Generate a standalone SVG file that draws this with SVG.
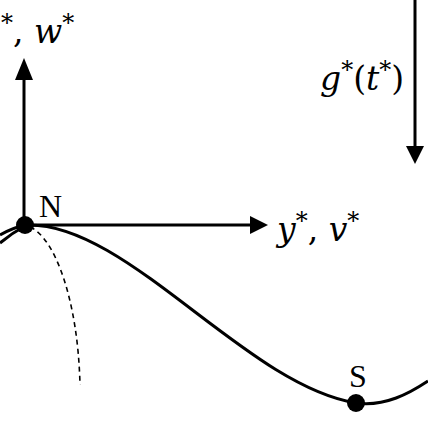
<svg xmlns="http://www.w3.org/2000/svg" width="428" height="428" viewBox="0 0 428 428">
<style>
.ax{stroke:#000;stroke-width:3;fill:none}
.cv{stroke:#000;stroke-width:3;fill:none}
.ds{stroke:#000;stroke-width:1.6;fill:none;stroke-dasharray:5 4}
.m{font-family:"DejaVu Serif",serif;font-style:italic;font-size:33px;fill:#000}
.up{font-style:normal}
.sup{font-size:24px;font-style:normal}
.lb{font-family:"Liberation Serif",serif;font-size:32px;fill:#000}
.ah{fill:#000}
</style>
<rect width="428" height="428" fill="#fff"/>
<g id="connectors">
<line class="ax" x1="24" y1="225" x2="24" y2="76"/>
<polygon class="ah" points="24,58 15,80 33,80"/>
<line class="ax" x1="24" y1="225" x2="252" y2="225"/>
<polygon class="ah" points="268,225 250,216 250,234"/>
<line class="ax" x1="415" y1="0" x2="415" y2="148"/>
<polygon class="ah" points="415,164 406,146 424,146"/>
<path class="cv" d="M25,225 C125,220 245,385 356,403 C385,407 410,393 428,381"/>
<path class="cv" d="M25,225 Q12,228 0,235"/>
<path class="cv" d="M25,226 Q12,233 0,243"/>
<path class="ds" d="M30,227 C55,238 78,300 80,385"/>
</g>
<g id="node-N">
<circle cx="25" cy="225" r="9" fill="#000"/>
<text class="lb" x="39" y="217">N</text>
</g>
<g id="node-S">
<circle cx="356" cy="403" r="9" fill="#000"/>
<text class="lb" x="349" y="387">S</text>
</g>
<g id="label-vw">
<text class="m" x="1" y="43"><tspan class="sup" dy="-12">*</tspan><tspan class="up" dy="12">, </tspan><tspan>w</tspan><tspan class="sup" dy="-12">*</tspan></text>
</g>
<g id="label-yv">
<text class="m" x="277" y="241">y<tspan class="sup" dy="-12">*</tspan><tspan class="up" dy="12">, </tspan><tspan>v</tspan><tspan class="sup" dy="-12">*</tspan></text>
</g>
<g id="label-g">
<text class="m" x="320" y="90">g<tspan class="sup" dy="-12">*</tspan><tspan class="up" dy="12">(</tspan><tspan>t</tspan><tspan class="sup" dy="-12">*</tspan><tspan class="up" dy="12">)</tspan></text>
</g>
</svg>
